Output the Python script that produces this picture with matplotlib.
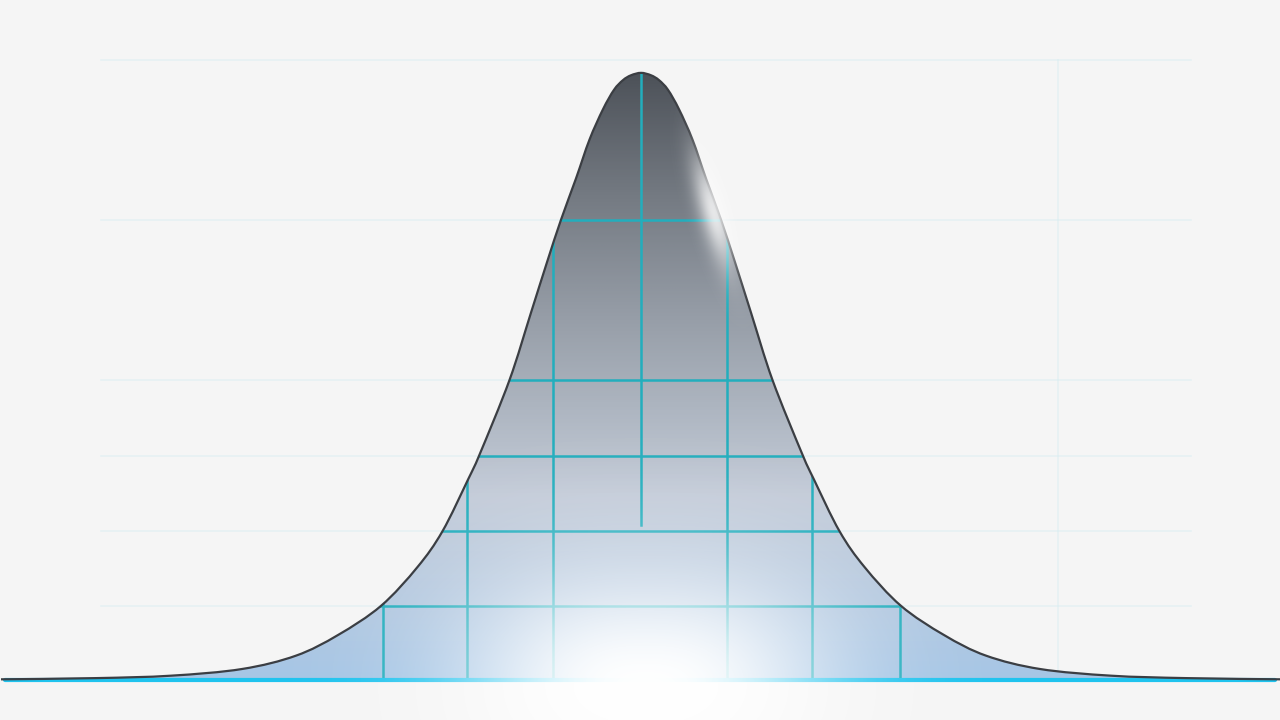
import numpy as np
import matplotlib
matplotlib.use("Agg")
import matplotlib.pyplot as plt
from matplotlib.colors import LinearSegmentedColormap
from matplotlib.path import Path
from matplotlib.patches import PathPatch

# bell curve: distance from the peak (units) and height (peak = 1)
offset = [0.000, 0.100, 0.180, 0.270, 0.380, 0.515, 0.650, 0.800, 0.940, 1.100,
          1.315, 1.610, 1.730, 1.985, 2.235, 2.600, 3.030, 3.450, 3.990, 4.700,
          5.450, 6.400]
height = [1.000, 0.996, 0.988, 0.972, 0.940, 0.890, 0.826, 0.758, 0.688, 0.605,
          0.494, 0.373, 0.330, 0.245, 0.186, 0.122, 0.074, 0.040, 0.018, 0.007,
          0.003, 0.001]

# grid positions
grid_x = [-2.58, -1.74, -0.88, 0.00, 0.86, 1.71, 2.59]
grid_y = [0.122, 0.245, 0.369, 0.494, 0.758, 1.021]
faint_x = [4.17]

x = np.concatenate([-np.array(offset[:0:-1]), np.array(offset)])
y = np.concatenate([np.array(height[:0:-1]), np.array(height)])

xmin, xmax = -6.41, 6.39
ymin, ymax = -0.066, 1.120


def smooth_path(px, py, close=False):
    # catmull-rom through the read points, drawn as bezier segments
    pts = np.column_stack([px, py])
    verts = [pts[0]]
    codes = [Path.MOVETO]
    n = len(pts)
    for i in range(n - 1):
        p0 = pts[max(i - 1, 0)]
        p1 = pts[i]
        p2 = pts[i + 1]
        p3 = pts[min(i + 2, n - 1)]
        verts += [p1 + (p2 - p0) / 6, p2 - (p3 - p1) / 6, p2]
        codes += [Path.CURVE4] * 3
    if close:
        verts += [(px[-1], 0), (px[0], 0), (px[0], 0)]
        codes += [Path.LINETO, Path.LINETO, Path.CLOSEPOLY]
    return Path(verts, codes)


fig = plt.figure(figsize=(12.8, 7.2), dpi=100)
fig.patch.set_facecolor("#f5f5f5")
ax = fig.add_axes([0, 0, 1, 1])
ax.set_facecolor("#f5f5f5")
ax.set_xlim(xmin, xmax)
ax.set_ylim(ymin, ymax)
ax.axis("off")

# faint background grid
for gy in grid_y:
    ax.plot([-5.4, 5.5], [gy, gy], color="#d3ecf2", lw=1.2, alpha=0.45, zorder=0)
for gx in faint_x:
    ax.plot([gx, gx], [0, 1.021], color="#d3ecf2", lw=1.2, alpha=0.45, zorder=0)

# gradient fill under the curve
clip = smooth_path(x, y, close=True)
ax.add_patch(PathPatch(clip, facecolor="none", edgecolor="none"))

cmap = LinearSegmentedColormap.from_list("bell", [
    (0.0, "#a6c6e6"),
    (0.12, "#b2c8e0"),
    (0.3, "#c4ccd9"),
    (0.45, "#adb5c0"),
    (0.6, "#969da7"),
    (0.8, "#747a82"),
    (1.0, "#4d5259"),
])
gx_, gy_ = np.meshgrid(np.linspace(xmin, xmax, 900), np.linspace(ymin, ymax, 500))
rgb = cmap(np.clip(gy_, 0, 1))[..., :3]
im = ax.imshow(rgb, extent=[xmin, xmax, ymin, ymax], origin="lower",
               aspect="auto", zorder=1, interpolation="bilinear")
im.set_clip_path(clip, transform=ax.transData)

# grid inside the bell
for gx in grid_x:
    y0 = 0.255 if gx == 0 else 0
    ln, = ax.plot([gx, gx], [y0, 1.05], color="#22aebd", lw=1.8, zorder=2)
    ln.set_clip_path(clip, transform=ax.transData)
for gy in grid_y:
    ln, = ax.plot([xmin, xmax], [gy, gy], color="#22aebd", lw=1.8, zorder=2)
    ln.set_clip_path(clip, transform=ax.transData)

# baseline
ax.plot([-6.36, 6.34], [0, 0], color="#1fc3ee", lw=3, zorder=3,
        solid_capstyle="round")

# white glow at bottom centre
glow = np.exp(-(np.abs((gx_ - 0.05) / 1.9) ** 2.4 + ((gy_ + 0.01) / 0.2) ** 2))
rgba = np.ones(gx_.shape + (4,))
rgba[..., 3] = np.clip(1.0 * glow, 0, 1)
ax.imshow(rgba, extent=[xmin, xmax, ymin, ymax], origin="lower",
          aspect="auto", zorder=4, interpolation="bilinear")

# outline
ax.add_patch(PathPatch(smooth_path(x, y), facecolor="none",
                       edgecolor="#3b3e43", lw=1.6, zorder=5))

# sheen along the right flank, worked out in pixel space
ppx = (gx_ - xmin) * 100.0
ppy = 680.0 - gy_ * 607.0
d = np.array([22.0, 80.0]) / np.hypot(22.0, 80.0)
du = (ppx - 714) * d[0] + (ppy - 212) * d[1]
dv = -(ppx - 714) * d[1] + (ppy - 212) * d[0]
sheen = np.exp(-((du / 58.0) ** 2 + (dv / 14.0) ** 2))
rgba2 = np.ones(gx_.shape + (4,))
rgba2[..., :3] = 0.985
rgba2[..., 3] = np.clip(0.85 * sheen, 0, 1)
ax.imshow(rgba2, extent=[xmin, xmax, ymin, ymax], origin="lower",
          aspect="auto", zorder=6, interpolation="bilinear")

fig.savefig("out.png", dpi=100, facecolor=fig.get_facecolor())
